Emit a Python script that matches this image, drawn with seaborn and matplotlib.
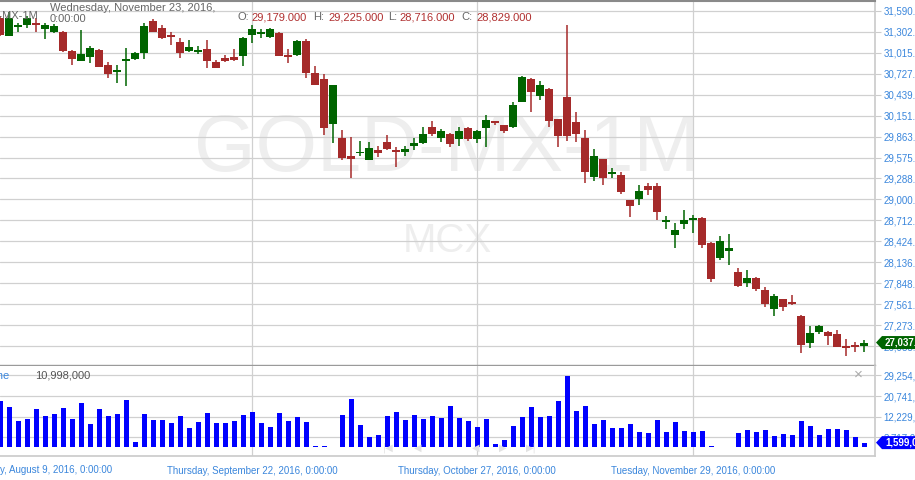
import numpy as np
import pandas as pd
import seaborn as sns
import matplotlib
matplotlib.use("Agg")
import matplotlib.pyplot as plt
from matplotlib.patches import Polygon
from matplotlib.transforms import IdentityTransform

### daily candles GOLD-MX-1M (MCX)
opens = [31490, 31247, 31362, 31394, 31417, 31335, 31294, 31298, 31037, 30900,
         30951, 31051, 30845, 30753, 30904, 30927, 31006, 31453, 31349, 31261,
         31161, 31041, 31027, 31064, 30886, 30941, 30955, 30973, 31252, 31266,
         31233, 31288, 30986, 30986, 31174, 30731, 30653, 30040, 29843, 29596,
         29634, 29548, 29679, 29795, 29672, 29658, 29734, 29768, 29988, 29839,
         29905, 29826, 29974, 29832, 29979, 30073, 30016, 29994, 30341, 30653,
         30424, 30516, 30100, 30406, 30059, 29837, 29308, 29555, 29352, 29333,
         28986, 29002, 29180, 29179, 28694, 28515, 28666, 28724, 28746, 28399,
         28201, 28297, 28005, 27858, 27923, 27758, 27501, 27634, 27597, 27401,
         27035, 27186, 27186, 27154, 26990, 27003, 26990]
highs = [31517, 31568, 31425, 31517, 31486, 31417, 31408, 31312, 31051, 31325,
         31106, 31058, 30890, 30845, 31074, 31023, 31417, 31476, 31394, 31302,
         31211, 31188, 31106, 31188, 30909, 30978, 31060, 31225, 31394, 31339,
         31348, 31291, 31060, 31188, 31202, 30831, 30722, 30577, 29953, 29857,
         29802, 29789, 29734, 29891, 29720, 29734, 29837, 30001, 30073, 29971,
         29908, 29988, 30001, 29959, 30156, 30077, 30024, 30335, 30698, 30660,
         30630, 30525, 30104, 31394, 30197, 29960, 29694, 29562, 29432, 29373,
         28995, 29193, 29228, 29225, 28773, 28673, 28856, 28787, 28755, 28410,
         28499, 28526, 28060, 28033, 27930, 27795, 27699, 27640, 27694, 27410,
         27264, 27278, 27195, 27209, 27086, 27045, 27072]
lows = [31243, 31243, 31302, 31357, 31298, 31202, 31280, 31023, 30845, 30893,
        30877, 30818, 30671, 30602, 30561, 30914, 30927, 31298, 31198, 31119,
        30945, 31019, 30996, 30800, 30800, 30882, 30900, 30835, 31151, 31211,
        31211, 30968, 30868, 30968, 30671, 30564, 29885, 29779, 29542, 29295,
        29596, 29540, 29583, 29679, 29452, 29590, 29672, 29760, 29864, 29795,
        29716, 29727, 29798, 29775, 29716, 30022, 29909, 29985, 30335, 30204,
        30365, 29998, 29716, 29802, 29782, 29229, 29249, 29204, 29297, 29072,
        28765, 28920, 29068, 28716, 28598, 28334, 28598, 28543, 28338, 27872,
        28170, 28105, 27803, 27803, 27748, 27529, 27405, 27470, 27552, 26898,
        26966, 27154, 27007, 26970, 26857, 26911, 26911]
closes = [31257, 31486, 31390, 31486, 31394, 31394, 31380, 31037, 30927, 30996,
          31082, 30822, 30726, 30776, 30927, 31006, 31380, 31302, 31211, 31225,
          31014, 31092, 31051, 30904, 30808, 30900, 30914, 31215, 31339, 31294,
          31339, 30973, 30959, 31174, 30739, 30571, 29985, 30571, 29573, 29562,
          29658, 29713, 29634, 29699, 29647, 29693, 29779, 29905, 29895, 29946,
          29757, 29946, 29826, 29935, 30086, 30049, 29933, 30296, 30680, 30479,
          30571, 30081, 29867, 29875, 29895, 29380, 29598, 29295, 29380, 29109,
          28906, 29123, 29130, 28829, 28718, 28581, 28718, 28751, 28380, 27913,
          28430, 28338, 27817, 27923, 27776, 27570, 27680, 27529, 27570, 27007,
          27168, 27264, 27131, 26976, 26966, 26980, 27037]
### volume in thousands
volume_k = [18820, 16360, 10360, 11180, 15290, 12410, 13230, 15700, 11180, 17760,
            9120, 15290, 12410, 13230, 18990, 1730, 13230, 10770, 10770, 9540,
            12410, 7480, 9950, 13650, 9540, 9540, 10360, 12820, 14060, 9540,
            7890, 13650, 10360, 12000, 9950, 400, 300, 0, 12820, 19400,
            8710, 3780, 4600, 12410, 14060, 10770, 12820, 11180, 12410, 11590,
            16520, 11590, 10360, 7890, 11180, 900, 2550, 8300, 12000, 16110,
            12000, 12410, 18580, 28980, 14470, 16520, 9120, 10770, 7480, 7480,
            9120, 5840, 5430, 10998, 5840, 9950, 6250, 5840, 6250, 400,
            0, 0, 5430, 6660, 5840, 6660, 4190, 5010, 4600, 10360,
            8300, 4600, 7070, 7070, 6660, 3780, 1599]

price_ticks = [31590, 31302, 31015, 30727, 30439, 30151, 29863, 29575, 29288,
               29000, 28712, 28424, 28136, 27848, 27561, 27273, 26985]
volume_ticks_k = [29254, 20741, 12229, 3717]
date_idx = [28, 53, 77]
date_labels = ["Thursday, September 22, 2016, 0:00:00",
               "Thursday, October 27, 2016, 0:00:00",
               "Tuesday, November 29, 2016, 0:00:00"]
first_date_label = "Tuesday, August 9, 2016, 0:00:00"
hover_idx = 73
hover_date = "Wednesday, November 23, 2016,\n0:00:00"

RED = "#a52a2a"
GREEN = "#006400"
VBLUE = "#0000ff"
LBLUE = "#3a86dc"
GRID = "#d0d0d0"
GREY = "#666666"

df = pd.DataFrame({"open": opens, "high": highs, "low": lows, "close": closes,
                   "volume": np.array(volume_k) * 1000})
df["idx"] = np.arange(len(df))
up = df["close"] >= df["open"]
colors = np.where(up, GREEN, RED)

sns.set_theme(style="white")
plt.rcParams["font.family"] = ["Liberation Sans", "DejaVu Sans"]

W, H = 915, 480
fig = plt.figure(figsize=(W / 100, H / 100), dpi=100)
def fxy(x, y):
    return x / W, 1 - y / H

ax = fig.add_axes([0, 1 - 365 / H, 875 / W, 364 / H])
vax = fig.add_axes([0, 1 - 456 / H, 875 / W, 90 / H])

#%% price panel
ax.text(0.511, 0.59, "GOLD-MX-1M", transform=ax.transAxes, ha="center", va="center",
        fontsize=57, color="#eeeeee", zorder=0)
ax.text(0.511, 0.34, "MCX", transform=ax.transAxes, ha="center", va="center",
        fontsize=29, color="#eeeeee", zorder=0)

ax.vlines(df["idx"], df["low"], df["high"], colors=colors, lw=1.1, zorder=2)
body_lo = df[["open", "close"]].min(axis=1)
body_h = (df["close"] - df["open"]).abs().clip(lower=24)
ax.bar(df["idx"], body_h, bottom=body_lo, width=0.92, color=colors, lw=0, zorder=3)

ax.set_xlim(-0.033, 97.19)
ax.set_ylim(26729, 31723)
ax.set_axisbelow(True)
ax.grid(axis="y", color=GRID, lw=0.9)
for d in date_idx:
    ax.axvline(d, color=GRID, lw=0.9, zorder=0.6)
ax.set_xticks([])
ax.yaxis.tick_right()
ax.set_yticks(price_ticks)
ax.set_yticklabels([f"{t:,.3f}" for t in price_ticks])
ax.tick_params(axis="y", direction="out", length=4.5, width=0.8, color="#cccccc",
               labelcolor=LBLUE, labelsize=7, pad=1.5)
ax.spines["left"].set_visible(False)
ax.spines["top"].set_color("#8a8a8a")
ax.spines["top"].set_linewidth(1.5)
ax.spines["bottom"].set_color("#9a9a9a")
ax.spines["bottom"].set_linewidth(1.0)
ax.spines["right"].set_color("#cccccc")

#%% volume panel
sns.barplot(x=df["idx"], y=df["volume"], native_scale=True, color=VBLUE, saturation=1,
            width=0.5, errorbar=None, linewidth=0, ax=vax)
vax.set_xlim(-0.033, 97.19)
vax.set_ylim(-3900e3, 33090e3)
vax.set_xlabel("")
vax.set_ylabel("")
vax.set_axisbelow(True)
vax.grid(axis="y", color=GRID, lw=0.9)
for d in date_idx:
    vax.axvline(d, color=GRID, lw=0.9, zorder=0.6)
vax.yaxis.tick_right()
vt = [v * 1000 for v in volume_ticks_k]
vax.set_yticks(vt)
vax.set_yticklabels([f"{v:,.0f}" for v in vt])
vax.set_xticks(date_idx)
vax.set_xticklabels(date_labels)
vax.tick_params(axis="y", direction="out", length=4.5, width=0.8, color="#cccccc",
                labelcolor=LBLUE, labelsize=7, pad=1.5)
vax.tick_params(axis="x", direction="out", length=5, width=0.8, color="#cccccc",
                labelcolor=LBLUE, labelsize=7, pad=2)
for s in ["top", "left"]:
    vax.spines[s].set_visible(False)
for s in ["bottom", "right"]:
    vax.spines[s].set_color("#cccccc")

#%% header / overlay texts
fig.text(*fxy(38, 16), "GOLD-MX-1M", ha="right", va="center", fontsize=8, color=GREY)
fig.text(*fxy(50, 3), hover_date, ha="left", va="top", fontsize=8, color=GREY, linespacing=1.15)
ohlc = [("O:", opens), ("H:", highs), ("L:", lows), ("C:", closes)]
lab_x = [237, 313, 388, 461]
val_x = [251, 328, 399, 476]
for (lab, arr), lx, vx in zip(ohlc, lab_x, val_x):
    fig.text(*fxy(lx, 17), lab, ha="left", va="center", fontsize=8, color=GREY)
    fig.text(*fxy(vx, 17), f"{arr[hover_idx]:,.3f}", ha="left", va="center",
             fontsize=8, color="#b03030")

fig.text(*fxy(10, 376), "Volume", ha="right", va="center", fontsize=8, color=LBLUE)
fig.text(*fxy(35, 376), f"{volume_k[hover_idx] * 1000:,.0f}", ha="left", va="center",
         fontsize=8, color="#555555")
fig.text(*fxy(858, 375), "\u00d7", ha="center", va="center", fontsize=11, color="#aaaaaa")
fig.text(*fxy(112, 470), first_date_label, ha="right", va="center", fontsize=7, color=LBLUE)
for x, g in zip([388, 418, 476, 503, 531], ["|\u25c0", "\u25c0", "\u25c0", "\u25b6", "\u25b6|"]):
    fig.text(*fxy(x, 448), g, ha="center", va="center", fontsize=7, color="#e2e2e2",
             family=["DejaVu Sans"])

#%% last value tags on the right axis
fig.canvas.draw()
def tag(axis, value, text, fc):
    yd = axis.transData.transform((0, value))[1]
    x0 = 876
    pts = [(x0, yd), (x0 + 6, yd + 6.5), (W + 5, yd + 6.5), (W + 5, yd - 6.5), (x0 + 6, yd - 6.5)]
    fig.add_artist(Polygon(pts, closed=True, fc=fc, ec="none", transform=IdentityTransform(), zorder=20))
    fig.text(885 / W, yd / H, text, ha="left", va="center", fontsize=7, fontweight="bold",
             color="white", zorder=21)

tag(ax, closes[-1], f"{closes[-1]:,.3f}", GREEN)
tag(vax, volume_k[-1] * 1000, f"{volume_k[-1] * 1000:,.0f}", VBLUE)

fig.savefig("out.png", dpi=100)
